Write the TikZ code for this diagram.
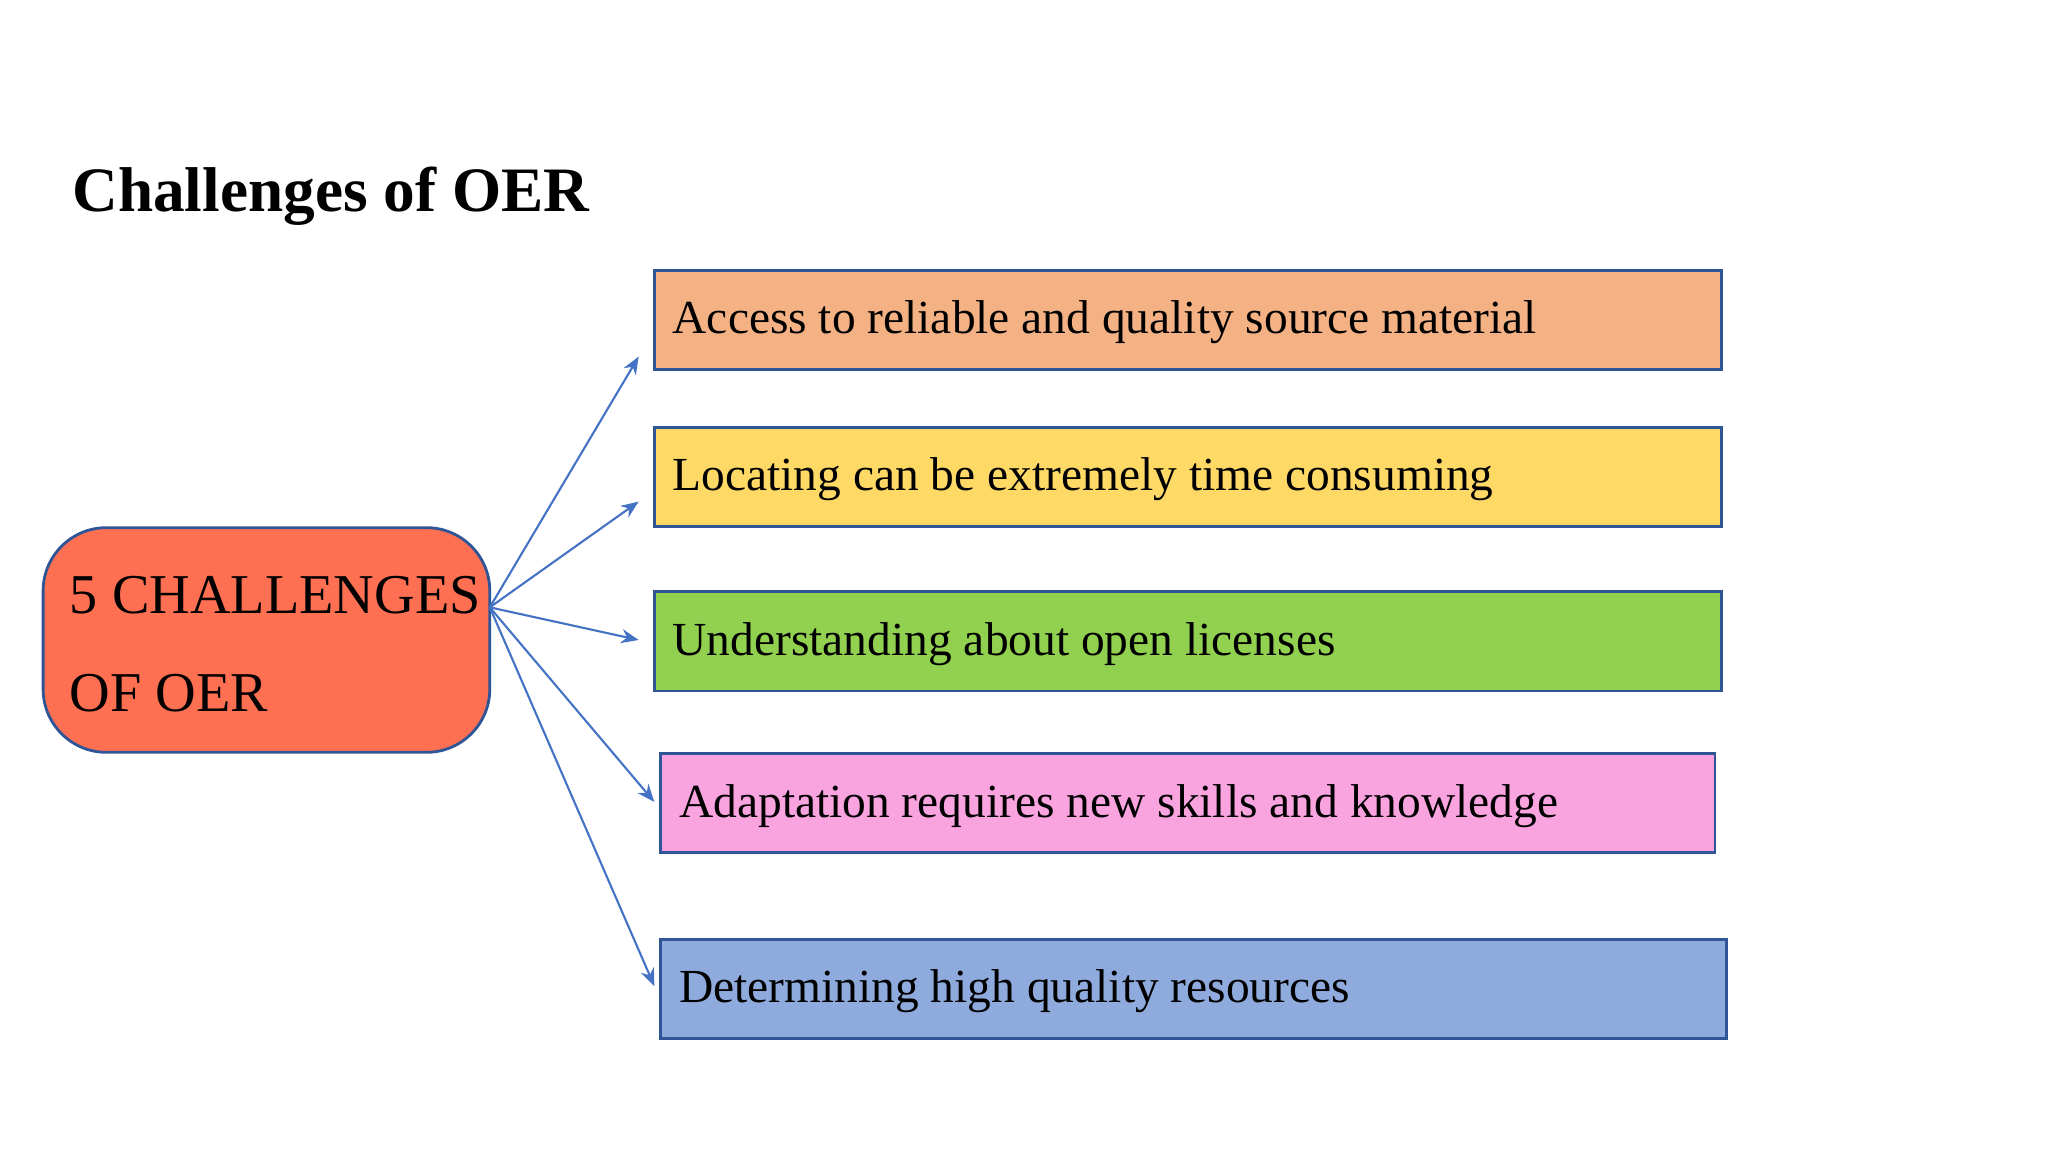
\documentclass[tikz,border=0pt]{standalone}
\usepackage{fontspec}
\setmainfont{Liberation Serif}
\usetikzlibrary{arrows.meta}
\definecolor{bord}{HTML}{2F5597}
\definecolor{arr}{HTML}{4472C4}
\definecolor{c1}{HTML}{F4B183}
\definecolor{c2}{HTML}{FFD966}
\definecolor{c3}{HTML}{92D050}
\definecolor{c4}{HTML}{F9A3DF}
\definecolor{c5}{HTML}{8FAADC}
\definecolor{cc}{HTML}{FF7052}
\begin{document}
\begin{tikzpicture}[x=0.01306cm,y=-0.01306cm,
 itembox/.style={draw=bord,line width=0.8pt,font=\fontsize{13.5pt}{16pt}\selectfont,text=black},
 conn/.style={draw=arr,line width=0.6pt,-{Stealth[length=5pt,width=4pt]}}]
\useasboundingbox (0,0) rectangle (1568,882);
\node[anchor=west,font=\bfseries\fontsize{18pt}{21pt}\selectfont] (title) at (46,150) {Challenges of OER};
\node[draw=bord,line width=0.8pt,fill=cc,rounded corners=18pt,minimum width=342*0.01306cm,minimum height=172*0.01306cm] (center) at (204,490) {};
\node[anchor=west,align=left,font=\fontsize{16pt}{28pt}\selectfont] (ctext) at (44,493) {5 CHALLENGES\\OF OER};
\foreach \n/\xa/\xb/\ya/\c/\t in {
 b1/501/1318/207/c1/{Access to reliable and quality source material},
 b2/501/1318/327/c2/{Locating can be extremely time consuming},
 b3/501/1318/453/c3/{Understanding about open licenses},
 b4/506/1313/577/c4/{Adaptation requires new skills and knowledge},
 b5/506/1322/719/c5/{Determining high quality resources}}{
 \path[itembox,fill=\c] (\xa,\ya) rectangle (\xb,\ya+76);
 \node[anchor=west,itembox,draw=none] (\n) at (\xa+4,\ya+40) {\t};
}
\coordinate (s) at (375,465);
\coordinate (e1) at (489,273);
\coordinate (e2) at (489,384);
\coordinate (e3) at (489,490);
\coordinate (e4) at (501,614);
\coordinate (e5) at (501,755);
\foreach \e in {e1,e2,e3,e4,e5} \draw[conn] (s) -- (\e);
\end{tikzpicture}
\end{document}
